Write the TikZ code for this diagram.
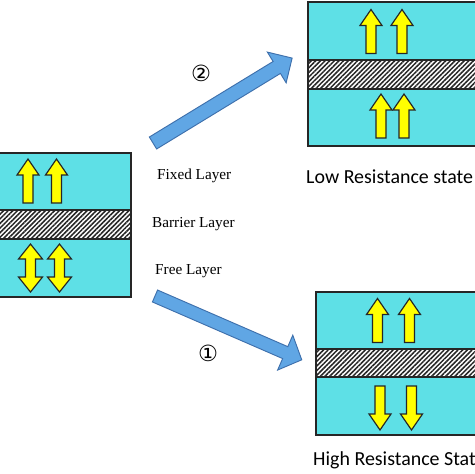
\documentclass[tikz,border=0pt]{standalone}
\usepackage{fontspec}
\setmainfont{Liberation Serif}
\newfontfamily\statefont{Carlito}
\newfontfamily\numfont{DejaVu Sans}
\usetikzlibrary{patterns.meta}

\definecolor{layercyan}{RGB}{94,224,230}
\definecolor{arrowblue}{RGB}{96,166,228}
\definecolor{arrowedge}{RGB}{62,112,172}
\definecolor{spinyellow}{RGB}{255,255,0}

\tikzset{
  layer/.style={draw=black!85, line width=1pt, fill=layercyan},
  barrier/.style={draw=black!85, line width=1pt, preaction={fill=white},
    pattern={Lines[angle=45, distance=2.8pt, line width=1.3pt]}, pattern color=black!85},
  spin/.style={draw=black!85, line width=1pt, fill=spinyellow, line join=miter},
  bigarrow/.style={draw=arrowedge, line width=0.8pt, fill=arrowblue, line join=miter},
  layertext/.style={font=\fontsize{13}{15}\selectfont, inner sep=0pt},
  statetext/.style={font=\statefont\fontsize{17}{20}\selectfont, inner sep=0pt},
  steptext/.style={font=\numfont\fontsize{19}{22}\selectfont, inner sep=0pt},
  pics/spin up/.style={code={
    \draw[spin] (-5,22) -- (-5,-6) -- (-11,-6) -- (0,-22) -- (11,-6) -- (5,-6) -- (5,22) -- cycle;}},
  pics/spin down/.style={code={
    \draw[spin] (-5,-22) -- (-5,6) -- (-11,6) -- (0,22) -- (11,6) -- (5,6) -- (5,-22) -- cycle;}},
  pics/spin both/.style={code={
    \draw[spin] (0,-24) -- (12,-9) -- (5,-9) -- (5,9) -- (12,9) -- (0,24) -- (-12,9) -- (-5,9) -- (-5,-9) -- (-12,-9) -- cycle;}},
}

\begin{document}
\begin{tikzpicture}[x=0.03cm, y=-0.03cm]

    % Picture frame, in pixels of the reference
    \useasboundingbox (0,0) rectangle (474,474);

    % Left stack: fixed, barrier and free layer
    \draw[layer] (-5,153) rectangle (131,210);
    \draw[barrier] (-5,210) rectangle (131,239);
    \draw[layer] (-5,239) rectangle (131,297);
    \pic at (28,181) {spin up};
    \pic at (56.5,181) {spin up};
    \pic at (30.5,268) {spin both};
    \pic at (59.5,268) {spin both};

    % Upper right stack: parallel spins
    \draw[layer] (308,2) rectangle (480,60);
    \draw[barrier] (308,60) rectangle (480,89);
    \draw[layer] (308,89) rectangle (480,146);
    \pic at (371,31.5) {spin up};
    \pic at (402,31.5) {spin up};
    \pic at (381,116) {spin up};
    \pic at (404,116) {spin up};

    % Lower right stack: antiparallel spins
    \draw[layer] (316,292) rectangle (480,349);
    \draw[barrier] (316,349) rectangle (480,377);
    \draw[layer] (316,377) rectangle (480,435);
    \pic at (377.5,320.5) {spin up};
    \pic at (409.5,320.5) {spin up};
    \pic at (380,408) {spin down};
    \pic at (411.5,408) {spin down};

    % Block arrow 2, up to the low resistance state
    \begin{scope}[shift={(153,143)}, rotate=31.4]
        \draw[bigarrow] (0,7) -- (145,7) -- (145,18) -- (163,0) -- (145,-18) -- (145,-7) -- (0,-7) -- cycle;
    \end{scope}

    % Block arrow 1, down to the high resistance state
    \begin{scope}[shift={(155,296)}, rotate=-23.5]
        \draw[bigarrow] (0,6.5) -- (142,6.5) -- (142,19) -- (160,0) -- (142,-19) -- (142,-6.5) -- (0,-6.5) -- cycle;
    \end{scope}

    % Labels
    \node[layertext, anchor=base west] (fixed) at (157,179) {Fixed Layer};
    \node[layertext, anchor=base west] (barrier) at (152,227) {Barrier Layer};
    \node[layertext, anchor=base west] (free) at (155,274) {Free Layer};
    \node[statetext, anchor=base west] (low) at (306,183) {Low Resistance state};
    \node[statetext, anchor=base west] (high) at (313,465) {High Resistance State};
    \node[steptext] (two) at (201,73) {②};
    \node[steptext] (one) at (208,353) {①};

\end{tikzpicture}
\end{document}
